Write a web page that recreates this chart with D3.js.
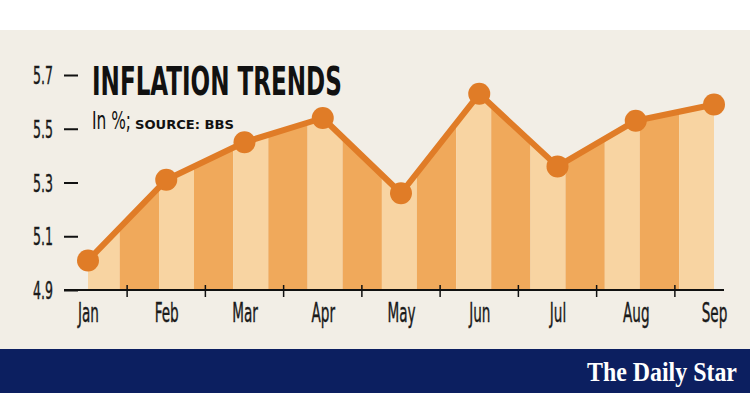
<!DOCTYPE html>
<html>
<head>
<meta charset="utf-8">
<script src="https://cdn.jsdelivr.net/npm/d3@7"></script>
<style>
  html, body { margin: 0; padding: 0; background: #fff; }
  svg { display: block; }
</style>
</head>
<body>
<div id="chart"></div>
<script>
// Inflation, %
const months = ['Jan', 'Feb', 'Mar', 'Apr', 'May', 'Jun', 'Jul', 'Aug', 'Sep'];
const inflation = [5.01, 5.31, 5.45, 5.54, 5.26, 5.63, 5.36, 5.53, 5.59];
const yTicks = [4.9, 5.1, 5.3, 5.5, 5.7];

const W = 750, H = 393;
const condensed = '"Liberation Sans Narrow", "DejaVu Sans Condensed", sans-serif';

const svg = d3.select('#chart').append('svg')
  .attr('width', W)
  .attr('height', H);

// background panels
svg.append('rect').attr('width', W).attr('height', H).attr('fill', '#fff');
svg.append('rect').attr('y', 30).attr('width', W).attr('height', 319).attr('fill', '#f2eee6');
svg.append('rect').attr('y', 349).attr('width', W).attr('height', H - 349).attr('fill', '#0c1f60');

const x = d3.scalePoint().domain(months).range([88, 714]);
const y = d3.scaleLinear().domain([4.9, 5.7]).range([290, 75]);

const data = months.map((m, i) => ({ m, v: inflation[i] }));

// striped area under the line
const area = d3.area()
  .x(d => x(d.m))
  .y0(y(4.9))
  .y1(d => y(d.v));

svg.append('clipPath').attr('id', 'under')
  .append('path').attr('d', area(data));

const stripes = svg.append('g').attr('clip-path', 'url(#under)');
const period = 74.3, lightW = 35, start = 84.7;
d3.range(9).forEach(i => {
  const x0 = start + i * period;
  stripes.append('rect')
    .attr('x', x0).attr('y', 60).attr('width', lightW).attr('height', 240)
    .attr('fill', '#f8d4a2');
  stripes.append('rect')
    .attr('x', x0 + lightW).attr('y', 60).attr('width', period - lightW).attr('height', 240)
    .attr('fill', '#f0a95b');
});

// line + dots
const line = d3.line().x(d => x(d.m)).y(d => y(d.v));
svg.append('path')
  .attr('d', line(data))
  .attr('fill', 'none')
  .attr('stroke', '#e07c27')
  .attr('stroke-width', 6)
  .attr('stroke-linejoin', 'round');

svg.append('g').selectAll('circle')
  .data(data)
  .join('circle')
  .attr('cx', d => x(d.m))
  .attr('cy', d => y(d.v))
  .attr('r', 11)
  .attr('fill', '#e07c27');

// x axis
svg.append('line')
  .attr('x1', 64).attr('x2', 724)
  .attr('y1', y(4.9)).attr('y2', y(4.9))
  .attr('stroke', '#111').attr('stroke-width', 2);

const mids = d3.range(1, months.length).map(i => (x(months[i - 1]) + x(months[i])) / 2);
svg.append('g').selectAll('line')
  .data(mids)
  .join('line')
  .attr('x1', d => d).attr('x2', d => d)
  .attr('y1', y(4.9) - 5).attr('y2', y(4.9) + 7)
  .attr('stroke', '#111').attr('stroke-width', 1.5);

const xAxis = svg.append('g')
  .attr('transform', `translate(0,${y(4.9)})`)
  .call(d3.axisBottom(x).tickSize(0).tickPadding(0));
xAxis.select('.domain').remove();
xAxis.selectAll('text')
  .attr('y', 32).attr('dy', 0)
  .style('font-family', condensed)
  .style('font-size', '26px')
  .attr('fill', '#1a1a1a')
  .attr('stroke', '#1a1a1a').attr('stroke-width', 0.4);

// y axis (dashes + labels)
const yAxis = svg.append('g')
  .attr('transform', 'translate(78,0)')
  .call(d3.axisLeft(y).tickValues(yTicks).tickFormat(d3.format('.1f')).tickSize(14).tickPadding(11));
yAxis.select('.domain').remove();
yAxis.selectAll('.tick line').attr('stroke', '#111').attr('stroke-width', 2);
yAxis.selectAll('text')
  .attr('dy', '0.36em')
  .style('font-family', condensed)
  .style('font-size', '24px')
  .attr('fill', '#1a1a1a')
  .attr('stroke', '#1a1a1a').attr('stroke-width', 0.4);

// squeeze labels so they look like the condensed face of the original
function squeeze(sel, k) {
  sel.each(function () {
    const w = this.getComputedTextLength();
    d3.select(this).attr('textLength', w * k).attr('lengthAdjust', 'spacingAndGlyphs');
  });
}
const feb = xAxis.selectAll('text').filter(d => d === 'Feb').node();
const k = 24 / feb.getComputedTextLength();
squeeze(xAxis.selectAll('text'), k);
squeeze(yAxis.selectAll('text'), k);

// free text placed at (x, y) and scaled sideways to a given width
function label(tx, ty, width, text, style) {
  const g = svg.append('g');
  const t = g.append('text').attr('fill', style.fill || '#111').text(text);
  t.style('font-family', style.family).style('font-size', style.size)
    .style('font-weight', style.weight || 'normal');
  const sx = width / t.node().getComputedTextLength();
  g.attr('transform', `translate(${tx},${ty}) scale(${sx},1)`);
  return g;
}

// title block
label(92, 95, 250, 'INFLATION TRENDS',
  { family: '"DejaVu Sans Condensed", sans-serif', size: '39px', weight: 'bold' });
label(92, 129, 39, 'In %;', { family: condensed, size: '24px' });
label(135, 129, 99, 'SOURCE: BBS',
  { family: '"DejaVu Sans", sans-serif', size: '13px', weight: 'bold' });

// masthead
label(587, 381, 150, 'The Daily Star',
  { family: '"Liberation Serif", serif', size: '28px', weight: 'bold', fill: '#fff' });
</script>
</body>
</html>
